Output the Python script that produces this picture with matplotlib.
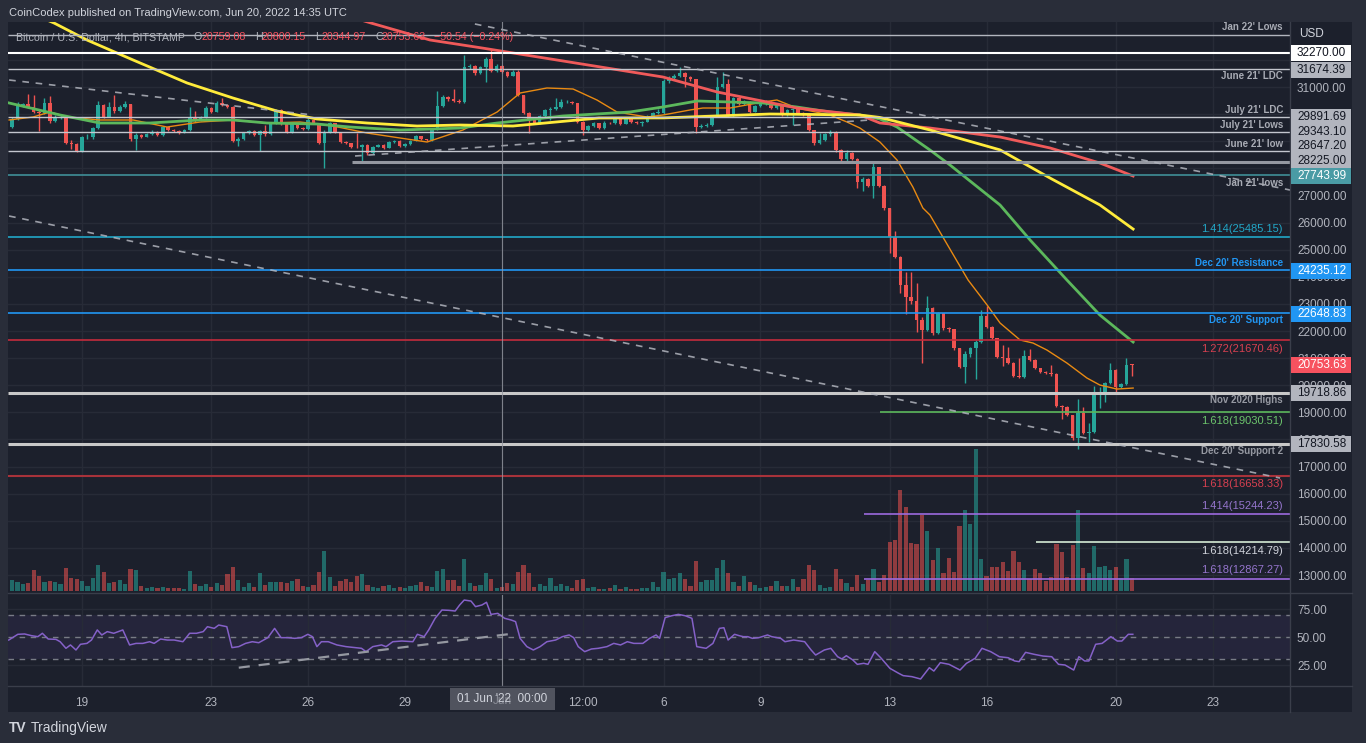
import numpy as np
import pandas as pd
import matplotlib
matplotlib.use('Agg')
import matplotlib.pyplot as plt
from matplotlib.patches import Rectangle
from matplotlib.lines import Line2D
from matplotlib.ticker import FormatStrFormatter

plt.rcParams['font.family'] = ['Liberation Sans', 'DejaVu Sans']

### BTC/USD 4h candles, Bitstamp ###
start = '2022-05-16 20:00'
first_open = 29510
closes = [29810, 30310, 30360, 30270, 30090, 30030, 30420, 29750, 29880, 29890,
          28950, 28880, 28640, 29140, 29150, 29480, 30340, 29900, 30270, 30110,
          30270, 30360, 29070, 29230, 29170, 29250, 29350, 29230, 29510, 29410,
          29390, 29310, 29410, 29880, 29760, 29880, 30240, 30090, 30420, 30340,
          30270, 29020, 29080, 29290, 29380, 29230, 29380, 29250, 29660, 30150,
          29640, 29330, 29640, 29480, 29440, 29780, 29660, 28920, 29350, 29660,
          29330, 28960, 28920, 28800, 28770, 28860, 28550, 28800, 28860, 28760,
          28980, 29010, 28820, 28880, 29010, 29190, 29070, 29040, 29450, 30310,
          30640, 30550, 30480, 30450, 31730, 31780, 31500, 31730, 32020, 31590,
          31780, 31570, 31420, 31570, 30700, 30050, 29780, 29680, 29930, 30150,
          30190, 30270, 30430, 30460, 30400, 29720, 29410, 29560, 29660, 29480,
          29680, 29660, 29840, 29640, 29840, 29720, 29660, 29720, 29900, 30030,
          30050, 31230, 31320, 31410, 31530, 31380, 31280, 29540, 29560, 29600,
          29900, 31010, 31110, 29930, 30580, 30360, 30460, 30090, 30300, 30360,
          30460, 30210, 30340, 29970, 30150, 30180, 30050, 29970, 29410, 28920,
          29040, 29250, 29350, 28680, 28340, 28580, 28340, 27510, 27610, 27360,
          28040, 27360, 26520, 25450, 24740, 23690, 23240, 23120, 22400, 22030,
          22860, 21940, 22650, 22100, 22060, 21360, 20660, 21150, 21360, 21600,
          22550, 22160, 21730, 21030, 21010, 20830, 20350, 20310, 21080, 20930,
          20620, 20500, 20440, 20420, 19230, 19210, 18900, 18040, 18960, 18250,
          18280, 19670, 19760, 20090, 20560, 19920, 20040, 20760, 20754]
highs = [29900, 30460, 30420, 30740, 30700, 30150, 30610, 30660, 29950, 29960,
         29900, 29050, 28950, 29200, 29250, 29520, 30500, 30380, 30450, 30700,
         30330, 30500, 30380, 29300, 29260, 29300, 29400, 29380, 29560, 29530,
         29450, 29420, 29460, 30270, 30120, 29940, 30300, 30260, 30480, 30580,
         30380, 30300, 29150, 29340, 29420, 29400, 29420, 29600, 29700, 30200,
         30180, 29680, 29700, 29660, 29520, 29840, 29800, 29680, 29420, 29720,
         29690, 29350, 29000, 28950, 29320, 28900, 28880, 28830, 28900, 28880,
         29020, 29060, 29030, 28920, 29050, 29230, 29210, 29100, 29500, 30850,
         30700, 30660, 30920, 30560, 32180, 31850, 31800, 31780, 32100, 32370,
         31830, 31800, 31600, 31620, 31620, 30720, 30080, 29800, 29980, 30200,
         30260, 30600, 30560, 30520, 30480, 30420, 29740, 29600, 29720, 29680,
         29740, 29720, 29900, 29860, 29880, 29860, 29740, 29760, 29950, 30080,
         30200, 31280, 31400, 31480, 31750, 31560, 31420, 31300, 29620, 29660,
         29960, 31360, 31540, 31300, 30640, 30600, 30520, 30480, 30340, 30400,
         30520, 30480, 30380, 30360, 30190, 30220, 30200, 30080, 29990, 29430,
         29300, 29290, 29400, 29370, 28700, 28680, 28620, 28380, 27680, 27640,
         28270, 28060, 27400, 26550, 25690, 24760, 24180, 24190, 23780, 22500,
         23290, 22880, 22700, 22680, 22150, 22090, 21380, 21250, 21400, 21650,
         22770, 22920, 22180, 21750, 21480, 21420, 20850, 20990, 21300, 21320,
         20950, 20640, 20530, 20740, 20450, 19280, 19240, 18920, 19480, 19180,
         18590, 19970, 19920, 20130, 20810, 20600, 20100, 20990, 20800]
lows = [29480, 29780, 30250, 30220, 30050, 29390, 29990, 29680, 29700, 29820,
        28900, 28700, 28600, 28620, 29080, 29100, 29450, 29850, 29880, 30050,
        30080, 30240, 29000, 28680, 29120, 29140, 29220, 29180, 29200, 29380,
        29350, 29280, 29290, 29390, 29700, 29740, 29860, 30030, 30060, 30300,
        30230, 28980, 28830, 29050, 29260, 29200, 28640, 29200, 29230, 29620,
        29600, 29300, 29300, 29440, 29400, 29420, 29620, 28880, 28000, 29320,
        29300, 28930, 28880, 28760, 28740, 28250, 28500, 28530, 28780, 28720,
        28740, 28950, 28790, 28800, 28860, 28990, 29030, 29000, 29020, 29430,
        30280, 30500, 30450, 30400, 30420, 31650, 31450, 31480, 31200, 31550,
        31560, 31530, 31380, 31400, 30650, 30000, 29320, 29640, 29650, 29900,
        29800, 30150, 30240, 30400, 30360, 29680, 29230, 29380, 29520, 29440,
        29460, 29620, 29640, 29600, 29620, 29690, 29620, 29560, 29700, 29880,
        30000, 30020, 31150, 31300, 31380, 31000, 31230, 29300, 29480, 29520,
        29560, 29880, 30980, 29880, 29900, 30320, 30330, 30050, 30060, 30260,
        30330, 30180, 30180, 29940, 29940, 29600, 30000, 29930, 29380, 28870,
        28900, 29000, 29210, 28620, 28250, 28230, 28300, 27260, 27160, 27300,
        26890, 27300, 26480, 24890, 24700, 23420, 22620, 23000, 21970, 20830,
        21990, 21850, 21900, 22050, 21980, 21300, 20620, 20090, 21050, 20220,
        21550, 22100, 21690, 20990, 20710, 20790, 20300, 20270, 20260, 20880,
        20580, 20460, 20400, 20340, 19190, 18740, 18860, 17980, 17630, 18200,
        17920, 18250, 19150, 19390, 20050, 19680, 19900, 20000, 20345]
volumes = [11.3, 9, 7, 8, 21, 15, 9, 10, 9, 7,
           23, 13, 12, 9.7, 5, 13, 26, 18.7, 8, 9,
           10.7, 7, 22, 20.7, 5, 3.3, 4.3, 3.3, 4.3, 2.7,
           2.7, 2.7, 2.3, 20, 7, 5, 6.7, 4.3, 8, 6,
           16.7, 23.7, 10.7, 4, 8, 4.3, 17.7, 6, 9, 9,
           9, 8, 10, 12.3, 5, 3.7, 6, 19.3, 40, 14,
           5, 10, 12, 9, 15, 16.7, 6, 4, 3.3, 5,
           6, 3.3, 4.3, 2.7, 5, 6, 9, 5, 4, 20,
           21.7, 11, 11.3, 5, 31.7, 8, 5, 6, 18.3, 12,
           3.3, 4.3, 8, 7, 19.3, 26.3, 18.3, 4.3, 7, 5,
           13, 5, 7, 5, 3.3, 10.7, 12.3, 3.3, 4.3, 1.7,
           1.7, 2.7, 6, 1.7, 4.3, 1.7, 1.7, 2.7, 2.7, 9,
           3.7, 18.7, 12.3, 13, 18.3, 12.3, 5, 30, 9, 10.7,
           10.7, 22.7, 31.3, 18.3, 9, 5, 15, 9, 6, 3.3,
           4.3, 5, 9.7, 5, 5, 11.7, 4.3, 11.7, 26, 21,
           6, 3.3, 3.7, 21.7, 12.3, 7.7, 3.7, 15.7, 6.7, 11.3,
           21.7, 9.3, 15.7, 49, 50.7, 100.7, 84, 48, 47, 75.7,
           60, 31.3, 42.7, 17.7, 33, 19, 64.7, 81, 66.7, 142,
           32, 14.7, 23.7, 23.7, 29, 20, 40, 29, 21, 11.7,
           21.7, 18.3, 10.3, 14, 47.3, 39, 14, 46.3, 81, 22.7,
           18.3, 44.7, 24.3, 25.3, 21, 24.3, 12.7, 32.3, 12.7]

### moving averages (days from 1 Jun 2022, price) ###
ma_yellow_t = [-14.6, -13.87, -12.85, -11.42, -9.75, -8.33, -6.97, -5.73, -4.18, -2.63, -1.3,
               0.34, 3.0, 5.0, 8.3, 11.08, 11.7, 13.25, 15.42, 16.97, 18.51, 19.54]
ma_yellow_v = [33730, 33361, 32734, 31996, 31148, 30594, 30115, 29820, 29672, 29561, 29598,
               29561, 29856, 29860, 30004, 29967, 29877, 29414, 28680, 27640, 26650, 25760]
ma_red_t = [-4.5, -4.06, -2.23, -0.62, 4.98, 6.66, 9.13, 11.08, 11.7, 13.25, 15.42, 16.97, 18.51, 19.54]
ma_red_v = [33520, 33361, 32734, 32439, 31369, 30816, 30225, 29967, 29672, 29487, 29155, 28750, 28196, 27717]
ma_green_t = [-15.26, -13.68, -12.45, -10.9, -9.35, -8.33, -7.28, -5.73, -4.71, -3.16, -2.14, -1.3,
              -0.15, 1.89, 3.96, 4.98, 6.04, 7.06, 8.08, 9.13, 10.15, 11.08, 11.7, 12.23, 13.25,
              13.87, 15.42, 16.35, 17.49, 18.51, 19.54]
ma_green_v = [30410, 29967, 29672, 29672, 29783, 29783, 29672, 29635, 29524, 29414, 29451, 29487,
              29672, 29930, 30078, 30262, 30484, 30447, 30410, 30262, 30078, 29967, 29820, 29524, 28676,
              28123, 26647, 25356, 23880, 22589, 21593]
ma_orange_t = [-15.26, -14.52, -13.99, -13.47, -12.45, -11.42, -10.37, -9.35, -8.33, -7.28, -6.25,
               -5.23, -4.18, -3.16, -2.32, -1.21, -0.15, 0.56, 1.39, 2.2, 2.94, 3.56, 4.49, 4.98,
               5.82, 6.22, 7.06, 8.08, 8.51, 9.13, 10.15, 10.68, 11.08, 11.7, 12.23, 12.72, 13.03,
               13.25, 14.43, 15.02, 15.42, 16.04, 16.44, 16.87, 17.49, 18.11, 18.51, 19.04, 19.54]
ma_orange_v = [29783, 29893, 30078, 29893, 29783, 29783, 29524, 29709, 29783, 29672, 29709,
               29561, 29303, 29119, 28971, 29414, 30078, 30779, 30963, 30926, 30520, 30078, 29893, 29967,
               30152, 30225, 30225, 30447, 30520, 30225, 29967, 29709, 29487, 28971, 28307, 27311, 26536,
               26278, 23880, 22958, 22294, 21667, 21556, 21298, 20818, 20265, 20007, 19859, 19896]

### RSI (days from 1 Jun, value) ###
rsi_t = [-15.27, -14.99, -14.78, -14.57, -14.37, -14.23, -14.05, -13.81, -13.68, -13.50, -13.36,
         -13.19, -13.05, -12.85, -12.71, -12.53, -12.39, -12.22, -12.02, -11.74, -11.53, -11.33,
         -11.12, -10.91, -10.77, -10.57, -10.36, -10.15, -9.88, -9.67, -9.46, -9.25, -9.12, -8.91,
         -8.77, -8.52, -8.36, -8.15, -7.94, -7.73, -7.53, -7.25, -7.04, -6.84, -6.63, -6.42, -6.21,
         -6.01, -5.87, -5.73, -5.59, -5.38, -5.11, -4.83, -4.55, -4.35, -4.21, -4.00, -3.73, -3.59,
         -3.38, -3.10, -2.76, -2.62, -2.41, -2.27, -2.07, -1.86, -1.65, -1.45, -1.31, -1.17, -0.96,
         -0.82, -0.62, -0.48, -0.34, -0.13, 0.08, 0.28, 0.42, 0.56, 0.77, 0.97, 1.18, 1.39, 1.66,
         1.87, 2.08, 2.22, 2.36, 2.56, 2.77, 2.98, 3.25, 3.46, 3.67, 3.88, 4.08, 4.36, 4.57, 4.77,
         4.88, 5.05, 5.26, 5.46, 5.67, 5.88, 6.03, 6.32, 6.53, 6.73, 6.87, 7.00, 7.20, 7.34, 7.47,
         7.61, 7.75, 7.95, 8.22, 8.35, 8.63, 8.76, 9.03, 9.37, 9.57, 9.71, 9.98, 10.18, 10.39, 10.52,
         10.66, 10.86, 11.00, 11.20, 11.33, 11.54, 11.74, 12.01, 12.28, 12.42, 12.69, 12.96, 13.23,
         13.37, 13.57, 13.84, 14.18, 14.38, 14.65, 14.86, 15.13, 15.40, 15.67, 15.87, 16.01, 16.21,
         16.48, 16.75, 17.02, 17.23, 17.43, 17.70, 17.86, 18.04, 18.17, 18.38, 18.58, 18.85, 19.05,
         19.19, 19.39, 19.53]
rsi_v = [47.3, 52.4, 52.7, 51.2, 50.3, 53.3, 48.2, 47.9, 45.8, 39.9, 42.9,
         38.4, 43.5, 44.3, 47.3, 56.3, 51.8, 54.8, 53.3, 56.3, 42.9, 44.3,
         44.3, 45.8, 44.3, 48.2, 47.3, 47.3, 45.8, 53.3, 53.3, 54.8, 59.2, 57.7,
         60.7, 59.2, 40.5, 41.4, 44.3, 45.8, 44.9, 49.4, 57.7, 49.4, 49.4, 48.8, 49.4,
         52.4, 50.3, 41.4, 45.8, 45.8, 42.9, 41.4, 40.5, 39.9, 36.9, 41.4, 42.9, 41.4,
         45.8, 46.4, 45.8, 52.4, 50.3, 56.3, 66.7, 74.1, 73.8, 73.2, 78.6, 83.0, 82.1,
         77.1, 78.6, 81.0, 70.2, 71.1, 66.7, 65.2, 63.7, 48.8, 41.4, 38.4, 41.4, 45.8, 47.3,
         50.3, 51.8, 49.4, 41.4, 36.9, 39.3, 39.9, 41.4, 44.3, 42.9, 45.8, 44.3, 44.3, 48.8, 51.8,
         48.8, 67.3, 69.0, 70.2, 69.0, 66.7, 41.4, 39.9, 44.3, 57.7, 58.3, 47.3, 52.4, 51.2, 50.3,
         50.3, 48.8, 49.4, 51.8, 50.3, 48.8, 45.8, 47.3, 45.8, 38.4, 33.9, 38.4, 39.9, 32.4, 30.4,
         33.3, 29.5, 25.6, 26.5, 25.6, 36.9, 31.0, 22.0, 17.6, 15.5, 14.6, 12.5, 22.6,
         19.6, 27.1, 25.6, 20.5, 26.5, 31.0, 39.9, 36.9, 32.4, 31.5, 28.6, 28.0, 36.3,
         34.5, 33.0, 32.4, 25.6, 25.0, 20.5, 32.4, 28.6, 28.6, 43.5, 44.3, 50.3, 46.4,
         46.4, 52.4, 52.4]
rsi_trend_t = [-8.15, 0.42]
rsi_trend_v = [22.6, 53.3]

### horizontal levels drawn on the chart ###
level_price = [32930, 32270, 31674.39, 29891.69, 29343.10, 28647.20, 28225.00, 27743.99, 25485.15,
               24235.12, 22648.83, 21670.46, 19718.86, 19030.51, 17830.58, 16658.33, 15244.23,
               14214.79, 12867.27]
level_name = ["Jan 22' Lows", "", "June 21' LDC", "July 21' LDC", "July 21' Lows", "June 21' low", "",
              "Jan 21' lows", "1.414(25485.15)", "Dec 20' Resistance", "Dec 20' Support",
              "1.272(21670.46)", "Nov 2020 Highs", "1.618(19030.51)", "Dec 20' Support 2",
              "1.618(16658.33)", "1.414(15244.23)", "1.618(14214.79)", "1.618(12867.27)"]
level_start = [None, None, None, None, None, None, -4.64, None, None, None, None, None, None,
               11.7, None, None, 11.21, 16.53, 11.21]

# dashed trend lines: (t0, p0, t1, p1)
trend_lines = [(-0.84, 33324, 24.4, 27200),
               (-15.26, 31258, -5.85, 29967),
               (-4.55, 28455, 11.39, 29783),
               (-15.26, 26241, 24.09, 16576)]

# price tags on the scale
tag_price = [32270, 31674.39, 29891.69, 29343.10, 28647.20, 28225.00, 27743.99, 24235.12,
             22648.83, 20753.63, 19718.86, 17830.58]

# price scale labels (those fully under a tag are not shown)
price_ticks = list(range(13000, 33000, 1000))
hidden_ticks = [28000, 29000, 30000, 32000]

tick_times = ['2022-05-19', '2022-05-23', '2022-05-26', '2022-05-29', '2022-06-01', '2022-06-03 12:00',
              '2022-06-06', '2022-06-09', '2022-06-13', '2022-06-16', '2022-06-20', '2022-06-23']
tick_labels = ['19', '23', '26', '29', 'Jun', '12:00', '6', '9', '13', '16', '20', '23']

### styling ###
W, H = 1366, 743
FRAME = '#292d39'
CHART_BG = '#1c202c'
GRID = '#272b37'
SEP = '#3a3e4a'
TXT = '#b2b5be'
UP, DOWN = '#26a69a', '#ef5350'

level_style = [('#b2b5be', 1), ('#ffffff', 1.5), ('#c3c6ce', 1), ('#c3c6ce', 1), ('#c3c6ce', 1),
               ('#c3c6ce', 1), ('#9598a1', 2.2), ('#3f8f98', 1.2), ('#22a7c7', 1.2), ('#2196f3', 1.2),
               ('#2196f3', 1.2), ('#c42b3c', 1.2), ('#c8c8c8', 2.2), ('#5cb85c', 1.2), ('#c8c8c8', 2.2),
               ('#a8323a', 1.5), ('#9c6ade', 1.2), ('#d6ecd6', 1.2), ('#9c6ade', 1.2)]
label_color = ['#a9acb5', '', '#a9acb5', '#a9acb5', '#a9acb5', '#a9acb5', '', '#a9acb5', '#22a7c7',
               '#2196f3', '#2196f3', '#d84050', '#9598a1', '#6cc46c', '#9598a1', '#d84050', '#9575cd',
               '#d1d4dc', '#9575cd']
label_size = [7, 0, 7, 7, 7, 7, 0, 7, 8, 7, 7, 8, 7, 8, 7, 8, 8, 8, 8]
label_weight = ['bold', '', 'bold', 'bold', 'bold', 'bold', '', 'bold', 'normal', 'bold', 'bold',
                'normal', 'bold', 'normal', 'bold', 'normal', 'normal', 'normal', 'normal']
label_dy = [7.5, 0, -7, 7, 7, 7, 0, -7.5, 8, 7, -7, -9, -7, -9, -7, -8, 8, -8.5, 9]
tag_py = [53.3, 69.7, 117, 131.7, 146.3, 161.3, 175.7, 271, 314, 365, 393.3, 444]
tag_col = [('#ffffff', '#131722'), ('#b2b5be', '#131722'), ('#b2b5be', '#131722'), ('#b2b5be', '#131722'),
           ('#b2b5be', '#131722'), ('#b2b5be', '#131722'), ('#4a9ba5', '#ffffff'), ('#2196f3', '#ffffff'),
           ('#2196f3', '#ffffff'), ('#f7525f', '#ffffff'), ('#b2b5be', '#131722'), ('#b2b5be', '#131722')]


def fx(px):
    return px / W


def fy(py):
    return 1 - py / H


# time axis in days from 1 Jun 2022
ref = pd.Timestamp('2022-06-01')
times = pd.date_range(start, periods=len(closes), freq='4h')
t = ((times - ref) / pd.Timedelta(days=1)).values
tick_t = [(pd.Timestamp(s) - ref) / pd.Timedelta(days=1) for s in tick_times]
xl = ((8 - 502) / 32.3, (1290 - 502) / 32.3)
price_at = lambda py: 31000 - (py - 87) * 18000 / 488
yl = (price_at(591), price_at(22))

fig = plt.figure(figsize=(W / 100, H / 100), dpi=100)
fig.patch.set_facecolor(FRAME)
fig.add_artist(Rectangle((fx(8), fy(712)), fx(1352 - 8), (712 - 22) / H, transform=fig.transFigure,
                         fc=CHART_BG, ec='none', zorder=-5))

main_rect = [fx(8), fy(591), fx(1290 - 8), (591 - 22) / H]

### grid + price scale ###
gax = fig.add_axes(main_rect)
gax.set_facecolor('none')
gax.set_xlim(xl)
gax.set_ylim(yl)
gax.set_xticks(tick_t)
gax.tick_params(axis='x', bottom=False, labelbottom=False)
gax.yaxis.tick_right()
gax.set_yticks(price_ticks)
gax.set_yticklabels(['' if p in hidden_ticks else f'{p:.2f}' for p in price_ticks])
gax.tick_params(axis='y', length=0, pad=5, labelsize=8.5, labelcolor=TXT)
gax.grid(True, color=GRID, lw=1)
for s in gax.spines.values():
    s.set_visible(False)

### volume ###
o = np.r_[first_open, closes[:-1]]
c = np.array(closes, dtype=float)
up = c >= o
vax = fig.add_axes(main_rect, sharex=gax)
vax.axis('off')
vax.set_ylim(0, 591 - 22)
vax.bar(t, volumes, width=0.13, color=np.where(up, UP, DOWN), alpha=0.55, lw=0)

### candles, MAs, drawings ###
cax = fig.add_axes(main_rect, sharex=gax, sharey=gax)
cax.axis('off')
col = np.where(up, UP, DOWN)
cax.vlines(t, lows, highs, colors=col, lw=1, zorder=3)
cax.bar(t, np.maximum(np.abs(c - o), 30), bottom=np.minimum(o, c), width=0.11, color=col, lw=0, zorder=4)

cax.plot(ma_orange_t, ma_orange_v, color='#e98a12', lw=1, zorder=5)
cax.plot(ma_green_t, ma_green_v, color='#5cb85c', lw=2, zorder=5)
cax.plot(ma_red_t, ma_red_v, color='#f05a5a', lw=2, zorder=5)
cax.plot(ma_yellow_t, ma_yellow_v, color='#ffeb3b', lw=2, zorder=5)

for i, p in enumerate(level_price):
    x0 = xl[0] if level_start[i] is None else level_start[i]
    cax.hlines(p, x0, xl[1], color=level_style[i][0], lw=level_style[i][1], zorder=6)
    if level_name[i]:
        cax.annotate(level_name[i], xy=(xl[1], p), xytext=(-7, label_dy[i]), textcoords='offset pixels',
                     ha='right', va='center', color=label_color[i], fontsize=label_size[i],
                     fontweight=label_weight[i], zorder=7, annotation_clip=False)

for t0, p0, t1, p1 in trend_lines:
    cax.plot([t0, t1], [p0, p1], color='#b2b5be', lw=1.2, dashes=(4, 4), alpha=0.85, zorder=6)

cax.axvline(0, color='#9598a1', lw=0.8, alpha=0.8, zorder=6)

### RSI pane ###
rax = fig.add_axes([fx(8), fy(686), fx(1290 - 8), (686 - 595) / H], sharex=gax)
rax.set_facecolor('none')
rax.set_ylim(50 - (686 - 637) / 1.12, 50 + (637 - 595) / 1.12)
rax.axhspan(30, 70, color='#7e57c2', alpha=0.1, lw=0)
for lvl in (70, 50, 30):
    rax.axhline(lvl, color='#787b86', lw=1, dashes=(4, 4))
rax.plot(rsi_t, rsi_v, color='#8561c8', lw=1.1)
rax.plot(rsi_trend_t, rsi_trend_v, color='#9598a1', lw=1.6, dashes=(5, 4))
rax.axvline(0, color='#9598a1', lw=0.8, alpha=0.8)
rax.yaxis.tick_right()
rax.set_yticks([25, 50, 75])
rax.yaxis.set_major_formatter(FormatStrFormatter('%.2f'))
rax.grid(True, color=GRID, lw=1)
rax.set_xticks(tick_t)
rax.set_xticklabels(tick_labels)
rax.tick_params(axis='both', length=0, labelsize=8.5, labelcolor=TXT)
rax.tick_params(axis='y', pad=5)
rax.tick_params(axis='x', pad=8)
for s in rax.spines.values():
    s.set_visible(False)

### pane separators ###
for xs, ys in [((1290, 1290), (22, 712)), ((8, 1352), (593, 593)), ((8, 1352), (686, 686))]:
    fig.add_artist(Line2D([fx(xs[0]), fx(xs[1])], [fy(ys[0]), fy(ys[1])], transform=fig.transFigure,
                          color=SEP, lw=1, zorder=2))

### price tags ###
for p, py, (bg, fg) in zip(tag_price, tag_py, tag_col):
    fig.add_artist(Rectangle((fx(1291), fy(py + 8)), fx(60), 16 / H, transform=fig.transFigure,
                             fc=bg, ec='none', zorder=5))
    fig.text(fx(1297), fy(py), f'{p:.2f}', color=fg, fontsize=8.5, va='center', ha='left', zorder=6)
fig.text(fx(1299), fy(34), 'USD', color='#d1d4dc', fontsize=8.5, va='center', ha='left')

### crosshair time label ###
fig.add_artist(Rectangle((fx(450), fy(710)), fx(105), 22 / H, transform=fig.transFigure,
                         fc='#50535e', ec='none', zorder=5))
fig.text(fx(502), fy(699), "01 Jun '22  00:00", color='#d1d4dc', fontsize=8.5, ha='center', va='center', zorder=6)
fig.text(fx(502), fy(701), 'Jun', color=TXT, fontsize=8.5, ha='center', va='center', alpha=0.6, zorder=7)

### header / legend ###
fig.text(fx(9), fy(13), 'CoinCodex published on TradingView.com, Jun 20, 2022 14:35 UTC',
         color='#d1d4dc', fontsize=8, va='center')
legend = [(16, 'Bitcoin / U.S. Dollar, 4h, BITSTAMP', TXT), (194, 'O', TXT), (201, '20759.08', '#f7525f'),
          (255, 'H', TXT), (262, '20800.15', '#f7525f'), (315, 'L', TXT), (321, '20344.97', '#f7525f'),
          (375, 'C', TXT), (381, '20753.63', '#f7525f'), (434, '\u221250.54 (\u22120.24%)', '#f7525f')]
for x, s, cl in legend:
    fig.text(fx(x), fy(37), s, color=cl, fontsize=7.7, va='center', zorder=8)

### footer ###
fig.text(fx(9), fy(728), 'TV', color='#d1d4dc', fontsize=10, fontweight='bold', va='center')
fig.text(fx(31), fy(728), 'TradingView', color='#d1d4dc', fontsize=10, va='center')

fig.savefig('out.png', dpi=100, facecolor=fig.get_facecolor())
